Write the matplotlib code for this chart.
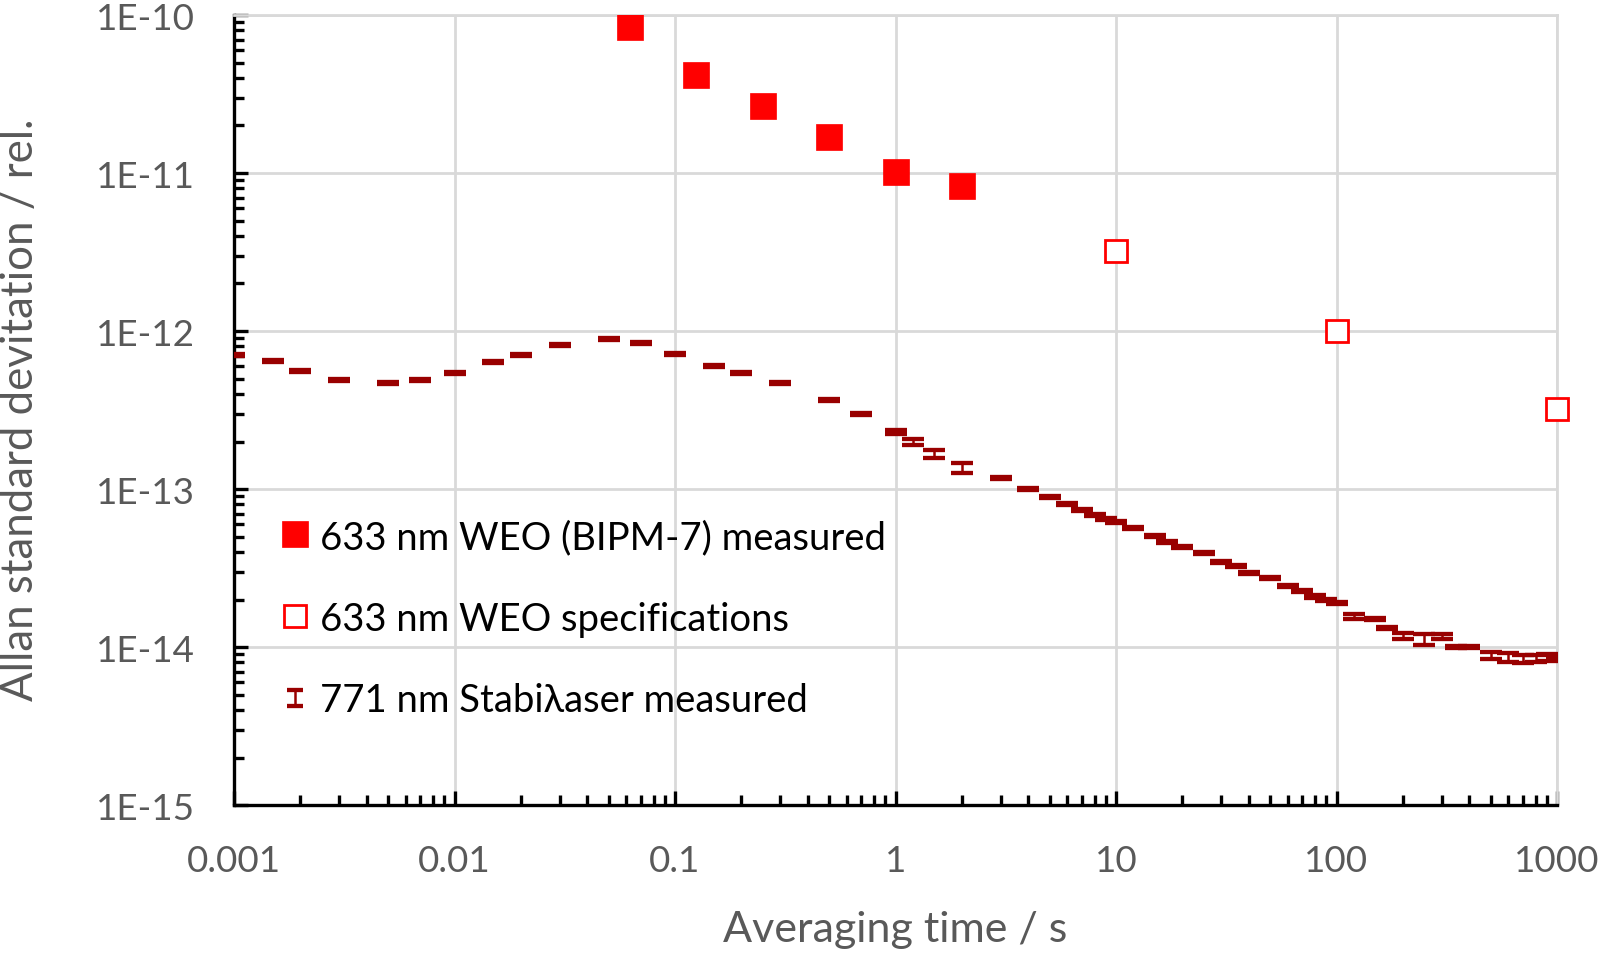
import numpy as np
import matplotlib
matplotlib.use("Agg")
import matplotlib.pyplot as plt
from matplotlib.container import ErrorbarContainer
from matplotlib.legend_handler import HandlerErrorbar
from matplotlib.lines import Line2D
from matplotlib.ticker import LogLocator, NullFormatter

plt.rcParams["font.family"] = ["Lato", "DejaVu Sans"]

# 633 nm WEO (BIPM-7) measured
weo_tau = [0.0625, 0.125, 0.25, 0.5, 1, 2]
weo_adev = [8.4e-11, 4.2e-11, 2.65e-11, 1.68e-11, 1.01e-11, 8.3e-12]

# 633 nm WEO specifications
spec_tau = [10, 100, 1000]
spec_adev = [3.2e-12, 1.0e-12, 3.2e-13]

# 771 nm Stabilaser measured (value and half error bar in percent)
stab_tau = [0.001, 0.0015, 0.002, 0.003, 0.005, 0.007, 0.01, 0.015, 0.02, 0.03,
            0.05, 0.07, 0.1, 0.15, 0.2, 0.3, 0.5, 0.7, 1, 1.2,
            1.5, 2, 3, 4, 5, 6, 7, 8, 9, 10,
            12, 15, 17, 20, 25, 30, 35, 40, 50, 60,
            70, 80, 90, 100, 120, 150, 170, 200, 250, 300,
            350, 400, 500, 600, 700, 800, 900, 1000]
stab_adev = [7.1e-13, 6.5e-13, 5.6e-13, 4.9e-13, 4.67e-13, 4.9e-13, 5.44e-13, 6.34e-13, 7.08e-13, 8.19e-13,
             8.89e-13, 8.36e-13, 7.2e-13, 6.03e-13, 5.42e-13, 4.67e-13, 3.66e-13, 2.97e-13, 2.31e-13, 1.99e-13,
             1.67e-13, 1.37e-13, 1.17e-13, 1.0e-13, 8.94e-14, 8.07e-14, 7.36e-14, 6.9e-14, 6.46e-14, 6.18e-14,
             5.66e-14, 5.06e-14, 4.62e-14, 4.31e-14, 3.92e-14, 3.47e-14, 3.26e-14, 2.94e-14, 2.73e-14, 2.44e-14,
             2.27e-14, 2.09e-14, 1.98e-14, 1.9e-14, 1.56e-14, 1.5e-14, 1.33e-14, 1.18e-14, 1.12e-14, 1.17e-14,
             1.0e-14, 1.0e-14, 8.9e-15, 8.6e-15, 8.4e-15, 8.5e-15, 8.6e-15, 8.5e-15]
stab_err_pct = [1.5, 1.5, 1.5, 1.5, 1.5, 1.5, 1.5, 1.5, 1.5, 1.5,
                1.5, 1.5, 1.5, 1.5, 1.5, 1.5, 1.5, 1.5, 3, 5,
                6, 7.5, 1.5, 1.5, 1.5, 1.5, 1.5, 1.5, 1.5, 1.5,
                1.5, 1.5, 1.5, 1.5, 1.5, 1.5, 1.5, 1.5, 1.5, 1.5,
                1.5, 1.5, 1.5, 1.5, 4, 1.5, 1.5, 4.5, 8, 4,
                1.5, 1.5, 5, 6, 6, 5, 5, 2]

x_ticks = [0.001, 0.01, 0.1, 1, 10, 100, 1000]
x_labels = ["0.001", "0.01", "0.1", "1", "10", "100", "1000"]
y_ticks = [1e-15, 1e-14, 1e-13, 1e-12, 1e-11, 1e-10]
y_labels = ["1E-15", "1E-14", "1E-13", "1E-12", "1E-11", "1E-10"]

grey = "#595959"
grid = "#d9d9d9"


class SmallCaps(HandlerErrorbar):
    # legend symbol for the error bars is smaller than in the plot
    def create_artists(self, *args, **kwargs):
        arts = super().create_artists(*args, **kwargs)
        for a in arts:
            if isinstance(a, Line2D):
                a.set_markersize(12)
        return arts


fig = plt.figure(figsize=(16, 9.54), dpi=100)
ax = fig.add_axes([0.14625, 0.155, 0.82688, 0.8282])

stab_err = np.array(stab_adev) * np.array(stab_err_pct) / 100
ax.errorbar(stab_tau, stab_adev, yerr=stab_err, fmt="none", ecolor="#990000",
            elinewidth=1.8, capsize=7.9, capthick=3.1, zorder=3,
            label="771 nm Stabi\u03bbaser measured")
ax.plot(weo_tau, weo_adev, "s", ms=18.5, color="#ff0000", mec="#ff0000", mew=0.5,
        zorder=4, label="633 nm WEO (BIPM-7) measured")
ax.plot(spec_tau, spec_adev, "s", ms=16.5, mfc="white", mec="#ff0000", mew=2,
        zorder=4, clip_on=False, label="633 nm WEO specifications")

ax.set_xscale("log")
ax.set_yscale("log")
ax.set_xlim(1e-3, 1e3)
ax.set_ylim(1e-15, 1e-10)
ax.set_xticks(x_ticks, x_labels)
ax.set_yticks(y_ticks, y_labels)
for axis in (ax.xaxis, ax.yaxis):
    axis.set_minor_locator(LogLocator(base=10, subs=np.arange(2, 10), numticks=20))
    axis.set_minor_formatter(NullFormatter())

ax.tick_params(which="major", direction="in", length=10, width=2.4, pad=28,
               labelsize=26.5, labelcolor=grey, color="black")
ax.tick_params(which="minor", direction="in", length=7, width=2.4, color="black")
ax.grid(True, which="major", color=grid, lw=2)
ax.set_axisbelow(True)

for s in ("left", "bottom"):
    ax.spines[s].set_color("black")
    ax.spines[s].set_linewidth(2.4)
for s in ("top", "right"):
    ax.spines[s].set_color(grid)
    ax.spines[s].set_linewidth(2)

fig.text(895.5 / 1600, 1 - 930 / 954, "Averaging time / s", ha="center", va="center",
         fontsize=31, color=grey)
fig.text(21 / 1600, 1 - 410 / 954, "Allan standard devitation / rel.", ha="center",
         va="center", rotation=90, fontsize=31.5, color=grey)

h, l = ax.get_legend_handles_labels()
order = [l.index("633 nm WEO (BIPM-7) measured"), l.index("633 nm WEO specifications"),
         l.index("771 nm Stabi\u03bbaser measured")]
ax.legend([h[i] for i in order], [l[i] for i in order], loc="center left",
          bbox_to_anchor=(0.035, 0.236), frameon=False, fontsize=27.5,
          labelspacing=1.2, handlelength=0.75, handletextpad=0.3,
          borderpad=0, borderaxespad=0, markerscale=1.0,
          handler_map={ErrorbarContainer: SmallCaps(xerr_size=0.5, yerr_size=0.2)})

fig.savefig("out.png", dpi=100)
